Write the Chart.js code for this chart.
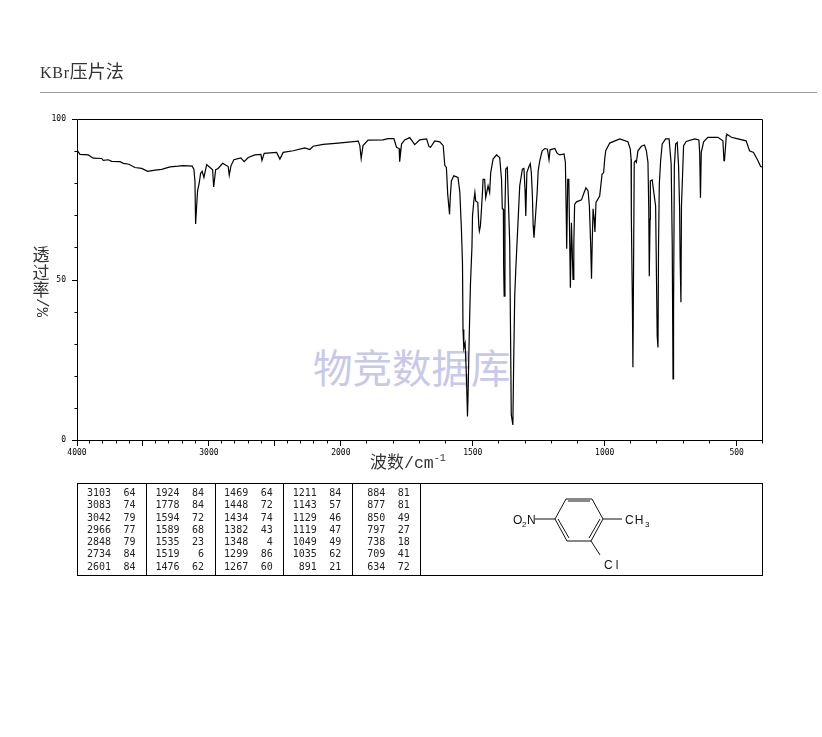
<!DOCTYPE html>
<html>
<head>
<meta charset="utf-8">
<script src="https://cdn.jsdelivr.net/npm/chart.js@4"></script>
<style>
  html, body { margin: 0; padding: 0; background: #fff; overflow: hidden; }
  body { width: 822px; height: 737px; position: relative; color: #333; }
  #chart, .abs { position: absolute; }
  #chart { left: 0; top: 0; }
  .cjk { font-family: "Noto Sans CJK SC", sans-serif; }
  #title { left: 40px; top: 57px; font-size: 18px; line-height: 26px; white-space: nowrap; }
  #title b { font: 16px "Liberation Serif", serif; letter-spacing: .7px; }
  #rule { left: 40px; top: 92px; width: 777px; height: 1px; background: #999; }
  #watermark { left: 313px; top: 338px; font-size: 39.5px; line-height: 56px; color: #c8c8ea; white-space: nowrap; }
  #xtitle { left: 370px; top: 449px; font-size: 17px; line-height: 24px; white-space: nowrap; }
  #xtitle span { font: 16.5px "Liberation Mono", monospace; }
  #xtitle sup { font: 10px "Liberation Mono", monospace; position: relative; top: -7px; vertical-align: baseline; }
  #ytitle { left: 32px; top: 245px; width: 18px; font-size: 17px; line-height: 17.5px; text-align: center; }
  #ypct { left: 32px; top: 298px; width: 18px; height: 20px; }
  #ypct div { font: 16px "Liberation Mono", monospace; transform: rotate(90deg); transform-origin: 9px 9px; width: 18px; white-space: nowrap; line-height: 18px; }
  #peaks { left: 77px; top: 483px; width: 684px; height: 91px; border: 1px solid #000; }
  .group { position: absolute; top: 3px; width: 68px; height: 88px; font: 10px "DejaVu Sans Mono", monospace; color: #222; }
  .row { height: 12.3px; line-height: 12.3px; position: relative; }
  .row span { position: absolute; text-align: right; }
  .sep { position: absolute; top: 0; width: 1px; height: 91px; background: #000; }
</style>
</head>
<body>
<div id="watermark" class="abs cjk">物竞数据库</div>
<canvas id="chart" width="822" height="737"></canvas>
<div id="title" class="abs cjk"><b>KBr</b>压片法</div>
<div id="rule" class="abs"></div>
<div id="xtitle" class="abs cjk">波数<span>/cm</span><sup>-1</sup></div>
<div id="ytitle" class="abs cjk">透<br>过<br>率</div>
<div id="ypct" class="abs"><div>/%</div></div>
<div id="peaks" class="abs"></div>
<svg class="abs" style="left:0;top:0" width="822" height="737" fill="none" stroke="#111" stroke-width="1">
  <path d="M555 519L566 499H592L603 519L591 541H567ZM568 501H590M600 519L589 538M558 519L569 538M535 519H555M603 519H622M591 541L600 555"/>
  <g font-family="Liberation Sans" font-size="12" fill="#111" stroke="none">
    <text x="513" y="524">O</text><text x="522" y="527" font-size="8">2</text><text x="527" y="524">N</text>
    <text x="625" y="524" letter-spacing="1">CH</text><text x="645" y="527" font-size="8">3</text>
    <text x="604" y="569" letter-spacing="3">Cl</text>
  </g>
</svg>
<script>
// spectrum
var wavenumbers = [4000, 3995, 3977, 3914, 3877, 3813, 3801, 3763, 3737, 3674, 3649, 3606, 3561, 3510, 3464, 3409, 3358, 3295, 3233, 3195, 3127, 3114, 3106, 3101, 3093, 3086, 3073, 3063, 3051, 3038, 3017, 2992, 2972, 2964, 2949, 2930, 2896, 2854, 2846, 2833, 2811, 2758, 2733, 2702, 2652, 2606, 2598, 2581, 2487, 2462, 2437, 2361, 2273, 2235, 2210, 2134, 2020, 1934, 1928, 1923, 1916, 1897, 1840, 1821, 1799, 1789, 1779, 1777, 1770, 1758, 1739, 1720, 1701, 1675, 1666, 1660, 1644, 1625, 1612, 1606, 1600, 1595, 1588, 1585, 1581, 1572, 1556, 1549, 1543, 1539, 1537, 1534, 1529, 1524, 1520, 1518, 1514, 1509, 1503, 1501, 1496, 1492, 1489, 1481, 1477, 1475, 1471, 1467, 1463, 1461, 1455, 1451, 1442, 1436, 1432, 1423, 1410, 1398, 1391, 1388, 1384, 1383, 1381, 1378, 1375, 1369, 1364, 1360, 1357, 1354, 1348, 1345, 1341, 1337, 1328, 1322, 1312, 1306, 1302, 1299, 1295, 1287, 1282, 1278, 1274, 1271, 1268, 1263, 1256, 1252, 1246, 1237, 1227, 1217, 1211, 1207, 1189, 1180, 1170, 1154, 1149, 1146, 1144, 1140, 1136, 1134, 1130, 1126, 1120, 1117, 1114, 1107, 1088, 1078, 1071, 1063, 1058, 1053, 1050, 1047, 1044, 1040, 1037, 1033, 1019, 1010, 1004, 1000, 996, 981, 943, 912, 903, 900, 899, 895, 893, 890, 888, 884, 880, 874, 861, 849, 842, 836, 833, 831, 828, 827, 820, 813, 807, 801, 798, 796, 793, 788, 782, 769, 756, 748, 744, 741, 739, 736, 731, 725, 720, 716, 714, 711, 709, 701, 691, 659, 643, 640, 637, 634, 625, 609, 571, 552, 548, 546, 539, 537, 520, 495, 464, 451, 436, 419, 409, 400];
var transmittance = [90.3, 90, 89, 88.8, 87.8, 87.7, 87.1, 87.3, 86.8, 86.7, 86.2, 85.9, 84.9, 84.6, 83.7, 84.1, 84.3, 85.1, 85.3, 85.5, 85.3, 84.4, 80.7, 67.3, 72.9, 77.6, 80.2, 83.1, 83.7, 81.8, 85.8, 84.9, 84.2, 78.8, 84.2, 84.6, 86.2, 85.2, 82.5, 85.4, 87.3, 87.9, 86.7, 88, 88.8, 89, 87.1, 89.3, 89.6, 87.5, 89.6, 90.1, 91, 90.5, 91.5, 92.1, 92.5, 93.1, 91.7, 87.7, 91.7, 93.4, 93.5, 93.9, 93.9, 91.2, 90.8, 86.7, 92.2, 93.5, 94.2, 92, 93.5, 93.8, 91.4, 91.2, 93.2, 92.9, 91.7, 85.6, 84.9, 76.6, 70.3, 76, 80.7, 82.3, 81.8, 77.1, 65.6, 55.2, 34.4, 28.6, 30.2, 19.8, 7.3, 13.5, 30.2, 47.9, 60.4, 69.8, 74.5, 77.1, 74.5, 74, 66.7, 65.1, 66.7, 71.9, 77.6, 81.2, 81.2, 75.5, 79.2, 77.1, 83.3, 87.5, 88.8, 88, 81.2, 72, 71.9, 54.2, 44.8, 71.9, 84.4, 84.9, 71.9, 61.5, 34.4, 7.8, 4.7, 24, 44.8, 53.1, 68.8, 79.2, 84.4, 84.6, 78.1, 69.8, 83.3, 85.2, 86.1, 83.3, 76, 66.7, 63, 68.8, 77.1, 83.9, 87, 90.1, 90.8, 90.6, 87.3, 90.4, 90.8, 89.3, 88.8, 89.1, 86.5, 71.9, 59.6, 81.2, 81.2, 69.8, 47.4, 67.7, 50, 61, 73.4, 74.2, 74.8, 77.1, 78.6, 77.6, 72.9, 60.4, 50.2, 62.5, 72, 68.8, 64.8, 74, 76, 82.8, 83.3, 87.5, 90.1, 92.5, 93.8, 92.9, 90.6, 87.5, 69.3, 42.7, 22.7, 61.5, 86.5, 87, 86.5, 90.1, 91.5, 91.9, 90.1, 86.5, 72.4, 51, 68.8, 80.7, 81, 76.6, 72.9, 32.3, 28.8, 59.9, 79.7, 87, 92.2, 93.8, 93.8, 86, 60.9, 19, 40.6, 85.4, 92.2, 92.7, 85.4, 71.9, 56.2, 42.9, 72.9, 91.7, 93, 93.8, 93.5, 89.6, 75.5, 89.6, 92.9, 94.3, 94.3, 93.2, 87, 87, 94.8, 95.3, 94.3, 93.8, 93.2, 90.1, 89.6, 87, 85.2, 85];

var xTicks = [4000, 3900, 3800, 3700, 3600, 3500, 3400, 3300, 3200, 3100, 3000, 2900, 2800, 2700, 2600, 2500, 2400, 2300, 2200, 2100, 2000, 1900, 1800, 1700, 1600, 1500, 1400, 1300, 1200, 1100, 1000, 900, 800, 700, 600, 500, 400];
var xLongTicks = [4000, 3500, 3000, 2500, 2000, 1500, 1000, 500];
var xLabels = [4000, 3000, 2000, 1500, 1000, 500];
var yTicks = [0, 10, 20, 30, 40, 50, 60, 70, 80, 90, 100];
var yLabels = [0, 50, 100];

var peakWavenumbers = [3103, 3083, 3042, 2966, 2848, 2734, 2601, 1924, 1778, 1594, 1589, 1535, 1519, 1476, 1469, 1448, 1434, 1382, 1348, 1299, 1267, 1211, 1143, 1129, 1119, 1049, 1035, 891, 884, 877, 850, 797, 738, 709, 634];
var peakValues = [64, 74, 79, 77, 79, 84, 84, 84, 84, 72, 68, 23, 6, 62, 64, 72, 74, 43, 4, 86, 60, 84, 57, 46, 47, 49, 62, 21, 81, 81, 49, 27, 18, 41, 72];

// the axis doubles its scale below 2000 cm-1
function axisPos(w) {
    return w >= 2000 ? (4000 - w) / 2 : 1000 + (2000 - w);
}
function axisWave(p) {
    return p <= 1000 ? 4000 - p * 2 : 3000 - p;
}

var frame = {
    id: 'frame',
    afterDraw: function (chart) {
        var c = chart.ctx, a = chart.chartArea;
        c.save();
        c.strokeStyle = '#000';
        c.lineWidth = 1;
        c.beginPath();
        c.rect(a.left + .5, a.top + .5, a.right - a.left - 1, a.bottom - a.top);
        xTicks.forEach(function (w) {
            var x = Math.round(chart.scales.x.getPixelForValue(axisPos(w))) - .5;
            if (w === 4000) x = a.left + .5;
            c.moveTo(x, a.bottom);
            c.lineTo(x, a.bottom + (xLongTicks.indexOf(w) >= 0 ? 6 : 3.5));
        });
        yTicks.forEach(function (v) {
            var y = Math.round(chart.scales.y.getPixelForValue(v)) + .5;
            c.moveTo(a.left, y);
            c.lineTo(a.left - (yLabels.indexOf(v) >= 0 ? 5 : 2.5), y);
        });
        c.stroke();
        c.restore();
    }
};

var points = wavenumbers.map(function (w, i) {
    return { x: axisPos(w), y: transmittance[i] };
});

var ctx = document.getElementById('chart').getContext('2d');
var chart = new Chart(ctx, {
    type: 'line',
    data: {
        datasets: [{
            data: points,
            borderColor: '#000',
            borderWidth: 1.2,
            pointRadius: 0,
            tension: 0,
            fill: false
        }]
    },
    plugins: [frame],
    options: {
        responsive: false,
        animation: false,
        layout: { padding: { top: 119, right: 59, left: 0, bottom: 0 } },
        plugins: { legend: { display: false }, tooltip: { enabled: false } },
        scales: {
            x: {
                type: 'linear',
                min: 0,
                max: 2600,
                afterBuildTicks: function (scale) {
                    scale.ticks = xTicks.map(function (w) { return { value: axisPos(w) }; });
                },
                afterFit: function (scale) { scale.height = 297; },
                grid: { drawOnChartArea: false, tickLength: 8, tickColor: 'transparent' },
                border: { display: false },
                ticks: {
                    autoSkip: false,
                    maxRotation: 0,
                    padding: 0,
                    color: '#000',
                    font: { family: 'DejaVu Sans Mono', size: 8 },
                    callback: function (v) {
                        var w = axisWave(v);
                        return xLabels.indexOf(w) >= 0 ? String(w) : '';
                    }
                }
            },
            y: {
                min: 0,
                max: 100,
                afterBuildTicks: function (scale) {
                    scale.ticks = yTicks.map(function (v) { return { value: v }; });
                },
                afterFit: function (scale) { scale.width = 77; },
                grid: { drawOnChartArea: false, tickLength: 7, tickColor: 'transparent' },
                border: { display: false },
                ticks: {
                    autoSkip: false,
                    padding: 4,
                    color: '#000',
                    font: { family: 'DejaVu Sans Mono', size: 8 },
                    callback: function (v) { return yLabels.indexOf(v) >= 0 ? String(v) : ''; }
                }
            }
        }
    }
});

// peak table, five columns of seven
var box = document.getElementById('peaks');
for (var g = 0; g < 5; g++) {
    var col = document.createElement('div');
    col.className = 'group';
    col.style.left = (g * 68.6) + 'px';
    for (var r = 0; r < 7; r++) {
        var i = g * 7 + r;
        var row = document.createElement('div');
        row.className = 'row';
        row.innerHTML = '<span style="right:35px">' + peakWavenumbers[i] + '</span><span style="right:10.5px">' + peakValues[i] + '</span>';
        col.appendChild(row);
    }
    box.appendChild(col);
    var sep = document.createElement('div');
    sep.className = 'sep';
    sep.style.left = ((g + 1) * 68.4) + 'px';
    box.appendChild(sep);
}
</script>
</body>
</html>
